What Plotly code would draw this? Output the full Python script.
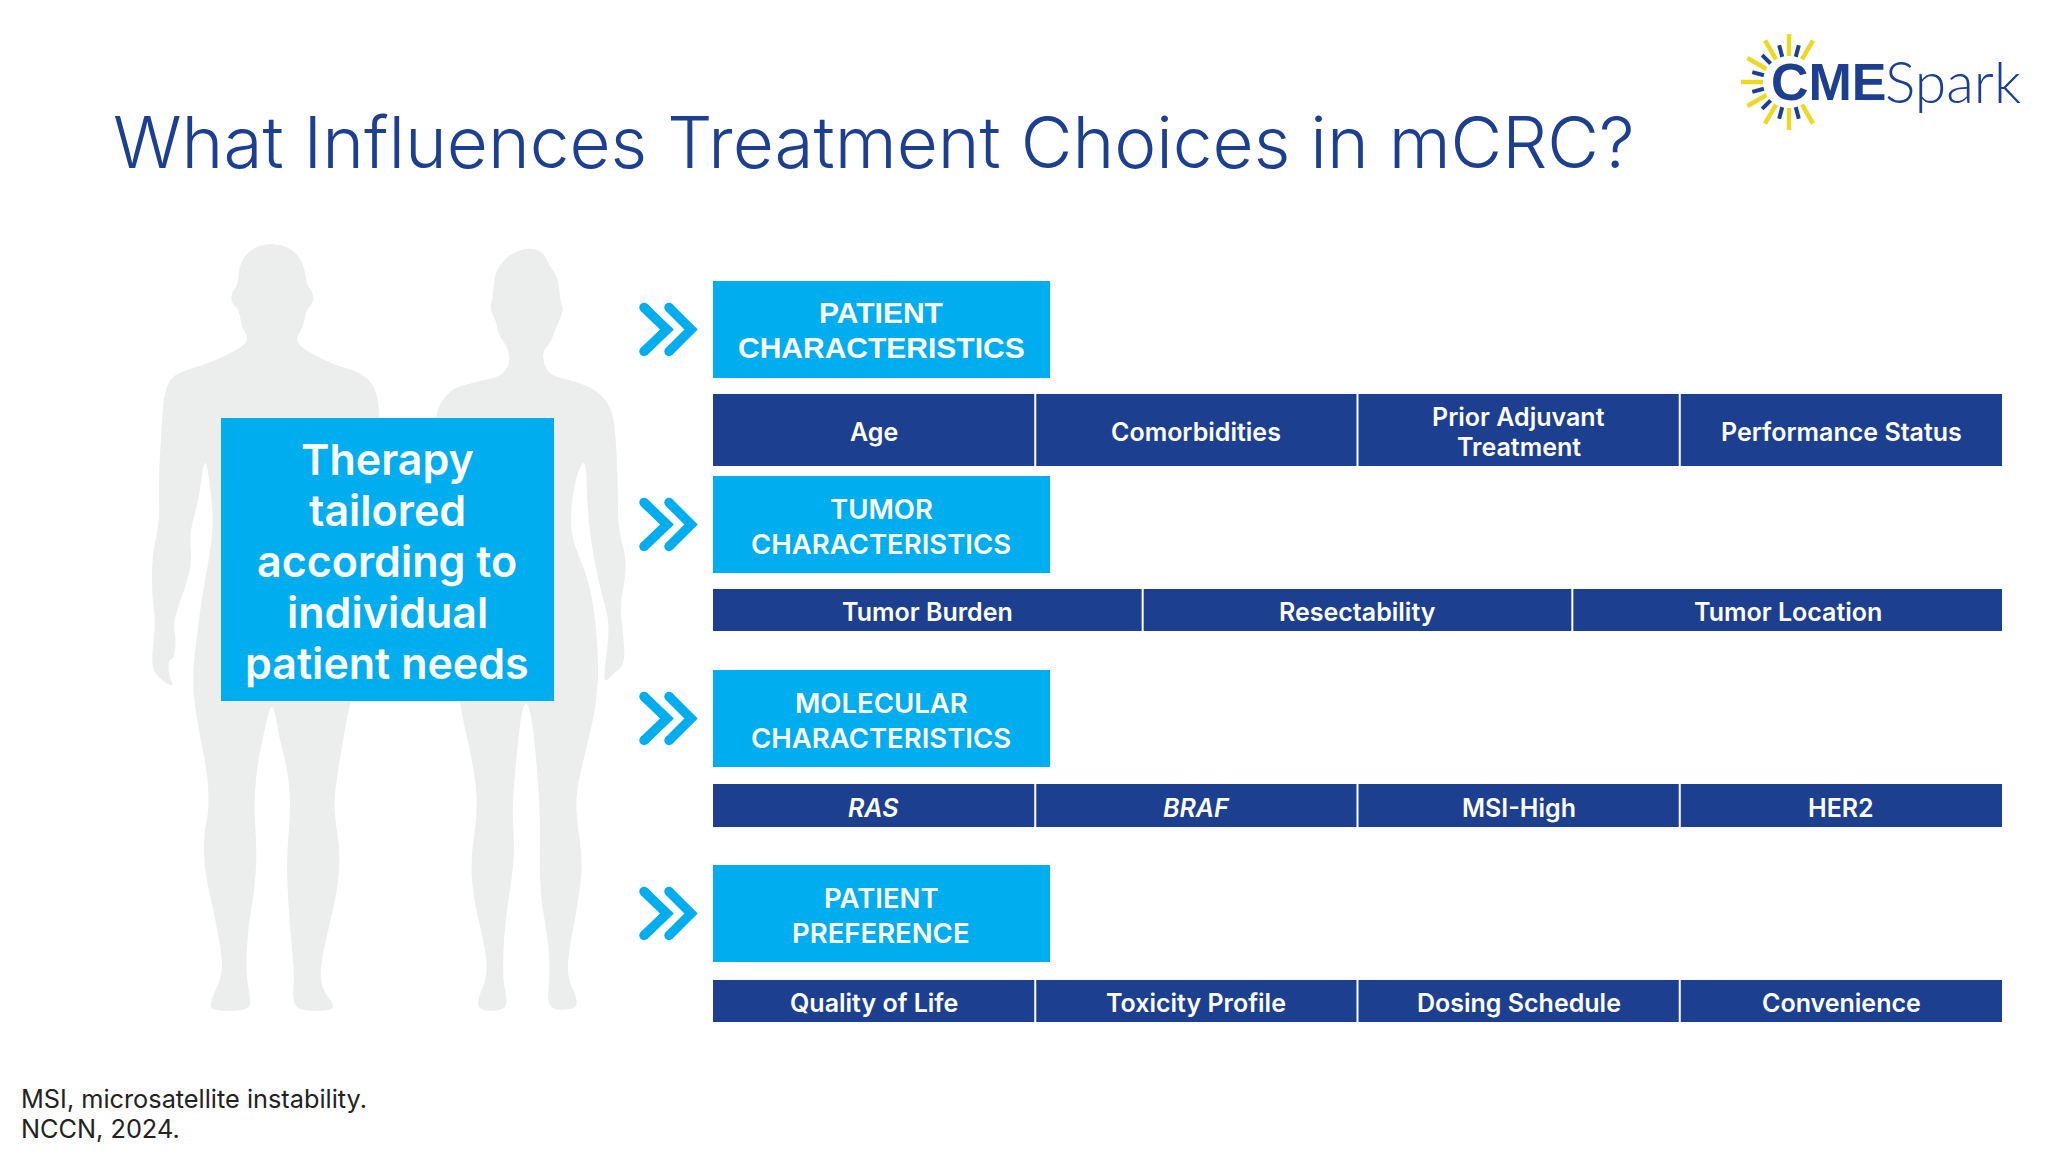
import math

import plotly.graph_objects as go

W, H = 2048, 1152

# text content
TITLE = "What Influences Treatment Choices in mCRC?"
CENTER_LINES = ["Therapy", "tailored", "according to", "individual", "patient needs"]
FOOTNOTES = ["MSI, microsatellite instability.", "NCCN, 2024."]

HEADERS = [
    ["PATIENT", "CHARACTERISTICS"],
    ["TUMOR", "CHARACTERISTICS"],
    ["MOLECULAR", "CHARACTERISTICS"],
    ["PATIENT", "PREFERENCE"],
]
ROW_1 = ["Age", "Comorbidities", ["Prior Adjuvant", "Treatment"], "Performance Status"]
ROW_2 = ["Tumor Burden", "Resectability", "Tumor Location"]
ROW_3 = ["<i>RAS</i>", "<i>BRAF</i>", "MSI-High", "HER2"]
ROW_4 = ["Quality of Life", "Toxicity Profile", "Dosing Schedule", "Convenience"]
ROWS = [ROW_1, ROW_2, ROW_3, ROW_4]

# outlines (crop coordinates, see to_page)
MALE = [
    (445, 43), (500, 55), (530, 85), (537, 125), (555, 140), (553, 160), (535, 172), (528, 205),
    (508, 225), (520, 243), (600, 275), (680, 292), (715, 320), (727, 365), (727, 600), (700, 800),
    (660, 900), (650, 920), (630, 1000), (612, 1080), (607, 1130), (625, 1210), (615, 1290), (585, 1380),
    (570, 1440), (580, 1475), (608, 1500), (600, 1512), (515, 1512), (500, 1490), (505, 1440), (495, 1370),
    (487, 1280), (485, 1215), (495, 1130), (490, 1060), (465, 990), (447, 910), (420, 1000), (405, 1060),
    (400, 1130), (408, 1210), (400, 1290), (385, 1350), (378, 1440), (392, 1490), (385, 1512), (295, 1512),
    (283, 1500), (315, 1450), (318, 1410), (295, 1320), (270, 1240), (270, 1170), (283, 1130), (280, 1060),
    (260, 990), (240, 900), (245, 830), (265, 720), (285, 640), (295, 580), (285, 500), (272, 448),
    (255, 540), (232, 600), (238, 640), (232, 680), (188, 770), (198, 800), (192, 840), (178, 840),
    (178, 870), (195, 895), (150, 875), (132, 850), (145, 770), (135, 720), (135, 640), (155, 580),
    (152, 490), (162, 375), (165, 340), (180, 305), (210, 290), (290, 272), (370, 243), (387, 225),
    (367, 205), (362, 172), (342, 160), (340, 140), (358, 125), (362, 85), (390, 55),
]
FEMALE = [
    (1105, 52), (1150, 60), (1165, 85), (1190, 110), (1195, 155), (1205, 172), (1185, 205), (1170, 235),
    (1150, 250), (1152, 275), (1170, 298), (1230, 307), (1290, 325), (1330, 360), (1340, 420), (1345, 500),
    (1345, 590), (1365, 640), (1365, 680), (1350, 740), (1360, 800), (1363, 850), (1330, 870), (1310, 885),
    (1310, 860), (1325, 775), (1305, 720), (1285, 660), (1265, 560), (1263, 450), (1235, 490), (1220, 570),
    (1230, 620), (1265, 680), (1285, 750), (1295, 850), (1290, 920), (1270, 990), (1240, 1080), (1235, 1130),
    (1255, 1230), (1240, 1310), (1215, 1410), (1215, 1450), (1240, 1490), (1235, 1510), (1160, 1510), (1168, 1450),
    (1165, 1380), (1140, 1280), (1145, 1130), (1120, 930), (1097, 920), (1078, 1050), (1070, 1130), (1078, 1220),
    (1050, 1350), (1045, 1450), (1058, 1490), (1050, 1512), (985, 1512), (980, 1490), (1005, 1450), (1003, 1400),
    (970, 1300), (962, 1220), (982, 1130), (970, 1040), (930, 920), (870, 500), (866, 375), (905, 325),
    (970, 310), (1040, 300), (1065, 275), (1060, 245), (1035, 220), (1030, 195), (1012, 170), (1020, 150),
    (1025, 100), (1055, 70),
]

YELLOW_RAYS = [90, 60, 120, 150, 180, 210, 240, 270, 300]
BLUE_RAYS = [75, 105, 135, 165, 195, 225, 255, 285]

CYAN = "#00aeef"
NAVY = "#1c3f8f"
GREY = "#eceded"
SUN = "#eed922"
BODY_FONT = "Inter"

HEADER_Y = [(281, 378), (476, 573), (670, 767), (865, 962)]
ROW_Y = [(394, 466), (589, 631), (784, 827), (980, 1022)]
ROW_LEFT, ROW_RIGHT = 713, 2002
GAP = 2
CHEVRON_W = 9.5

fig = go.Figure()
shapes = []
notes = []


def to_page(p):
    return 100 + p[0] / 2.597, 220 + p[1] / 1.912


def smooth_path(points):
    pts = [to_page(p) for p in points]
    n = len(pts)
    mid = lambda a, b: ((a[0] + b[0]) / 2, (a[1] + b[1]) / 2)
    start = mid(pts[-1], pts[0])
    d = f"M{start[0]:.1f},{start[1]:.1f}"
    for i in range(n):
        m = mid(pts[i], pts[(i + 1) % n])
        d += f" Q{pts[i][0]:.1f},{pts[i][1]:.1f} {m[0]:.1f},{m[1]:.1f}"
    return d + " Z"


def box(x0, y0, x1, y1, color):
    shapes.append(dict(type="rect", x0=x0, y0=y0, x1=x1, y1=y1, fillcolor=color, line_width=0))


def label(x, y, text, size, font=BODY_FONT, color="white", anchor="center", weight=600):
    notes.append(dict(
        x=x, y=y, text=text, showarrow=False, xanchor=anchor, yanchor="middle",
        font=dict(family=font, size=size, color=color, weight=weight),
    ))


def chevrons(cy):
    r = CHEVRON_W / 2
    for x0, x1 in [(644, 667), (669, 691)]:
        shapes.append(dict(
            type="path", path=f"M{x0},{cy - 22} L{x1},{cy} L{x0},{cy + 22}",
            line=dict(color=CYAN, width=CHEVRON_W),
        ))
        # round the two open ends
        for y in (cy - 22, cy + 22):
            shapes.append(dict(
                type="circle", x0=x0 - r, x1=x0 + r, y0=y - r, y1=y + r,
                fillcolor=CYAN, line_width=0,
            ))


# silhouettes
for outline in (MALE, FEMALE):
    shapes.append(dict(type="path", path=smooth_path(outline), fillcolor=GREY, line_width=0))

# center box
box(221, 418, 554, 701, CYAN)
for i, line in enumerate(CENTER_LINES):
    label(387, 459 + i * 51, line, 43)

# header boxes with chevrons, the first one is set in a different face on the slide
for n, ((y0, y1), lines) in enumerate(zip(HEADER_Y, HEADERS)):
    box(713, y0, 1050, y1, CYAN)
    chevrons((y0 + y1) / 2)
    cy = (y0 + y1) / 2
    if n == 0:
        face, size, weight = "Liberation Sans", 30, 700
        label(881, cy - 17, lines[0], size, font=face, weight=weight)
        label(881, cy + 17.5, lines[1], size, font=face, weight=weight)
    else:
        face, size, weight = BODY_FONT, 27.5, 600
        label(881, cy - 16, lines[0], size, font=face, weight=weight)
        label(881, cy + 19.5, lines[1], size, font=face, weight=weight)

# factor rows
for (y0, y1), items in zip(ROW_Y, ROWS):
    step = (ROW_RIGHT - ROW_LEFT) / len(items)
    for i, item in enumerate(items):
        x0 = ROW_LEFT + i * step + (GAP / 2 if i else 0)
        x1 = ROW_LEFT + (i + 1) * step - (GAP / 2 if i < len(items) - 1 else 0)
        box(x0, y0, x1, y1, NAVY)
        cx, cy = (x0 + x1) / 2, (y0 + y1) / 2 + 2
        if isinstance(item, list):
            label(cx, cy - 15, item[0], 25)
            label(cx, cy + 15, item[1], 25)
        else:
            label(cx, cy, item, 25)

# title and footnotes
label(111, 142, TITLE, 71, color=NAVY, anchor="left", weight=300)
for y, line in zip((1098, 1128), FOOTNOTES):
    label(18.5, y, line, 25.3, color="#222222", anchor="left", weight=400)

# logo
SUN_X, SUN_Y = 1789, 82
for angles, color, r0, r1, width in [(YELLOW_RAYS, SUN, 26, 48, 4.5), (BLUE_RAYS, NAVY, 26, 38, 4)]:
    for a in angles:
        c, s = math.cos(math.radians(a)), math.sin(math.radians(a))
        shapes.append(dict(
            type="line", x0=SUN_X + r0 * c, y0=SUN_Y - r0 * s, x1=SUN_X + r1 * c, y1=SUN_Y - r1 * s,
            line=dict(color=color, width=width),
        ))
label(1769, 82, "CME", 52, font="Liberation Sans", color=NAVY, anchor="left", weight=700)
label(1883, 81, "Spark", 57, font="Lato", color=NAVY, anchor="left", weight=300)

fig.update_layout(
    width=W,
    height=H,
    margin=dict(l=0, r=0, t=0, b=0),
    paper_bgcolor="white",
    plot_bgcolor="white",
    showlegend=False,
    xaxis=dict(range=[0, W], visible=False, fixedrange=True),
    yaxis=dict(range=[H, 0], visible=False, fixedrange=True),
    shapes=shapes,
    annotations=notes,
)

fig.write_html(
    "out.html",
    config={"displayModeBar": False},
    post_script="document.body.style.margin='0';",
)
